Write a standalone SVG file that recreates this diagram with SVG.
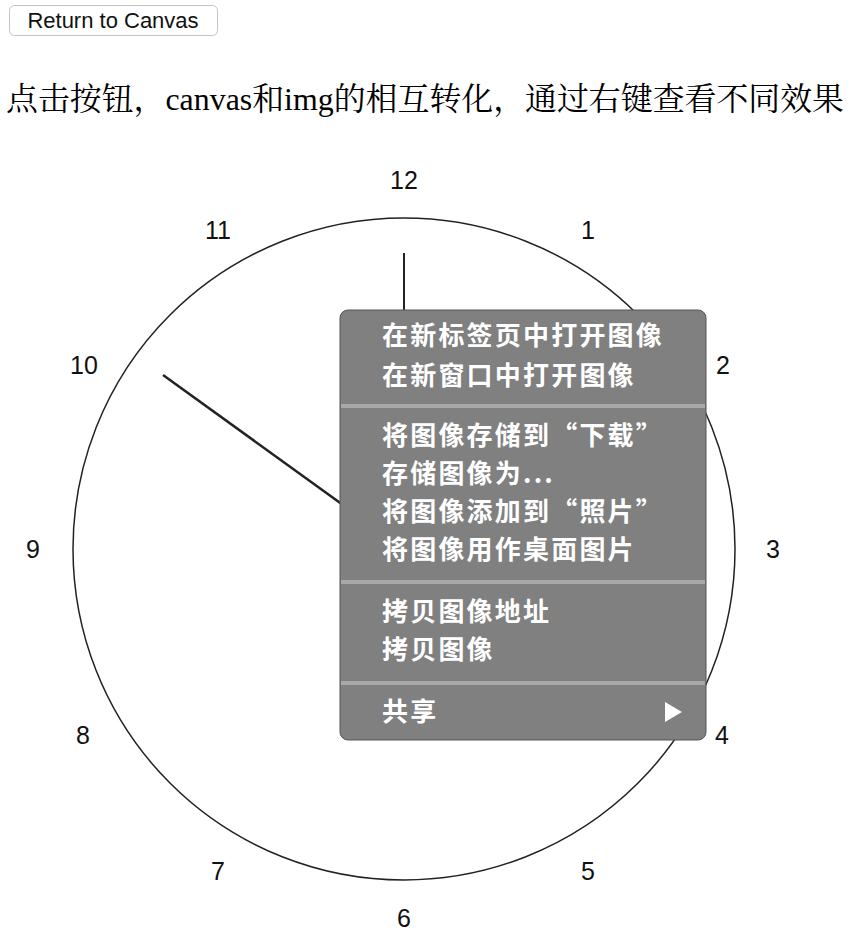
<svg xmlns="http://www.w3.org/2000/svg" width="860" height="936" viewBox="0 0 860 936">
<style>
.n{font-family:"Liberation Sans",Arial,sans-serif;font-size:25px;fill:#111;text-anchor:middle}
.m{font-family:"Noto Sans CJK SC","Liberation Sans",sans-serif;font-size:26px;letter-spacing:2.2px;fill:#fff;font-weight:600}
.sep{stroke:#a8a8a8;stroke-width:4}
</style>
<rect width="860" height="936" fill="#fff"/>
<g id="button">
<rect x="9.5" y="5.5" width="208" height="30" rx="5" fill="#fff" stroke="#c4c4c4"/>
<text x="113" y="28" font-family="'Liberation Sans',Arial,sans-serif" font-size="22" text-anchor="middle" fill="#111">Return to Canvas</text>
</g>
<text x="6" y="110" font-family="'Liberation Serif','Noto Serif CJK SC','Noto Sans CJK SC',serif" font-size="31.9" fill="#000">点击按钮，canvas和img的相互转化，通过右键查看不同效果</text>
<g id="clock">
<circle cx="404" cy="549" r="331" fill="none" stroke="#222" stroke-width="1.5"/>
<line x1="404" y1="549" x2="404" y2="253" stroke="#222" stroke-width="2"/>
<line x1="404" y1="549" x2="163" y2="375" stroke="#222" stroke-width="2.5"/>
<text class="n" x="404" y="189">12</text>
<text class="n" x="588" y="239">1</text>
<text class="n" x="723" y="374">2</text>
<text class="n" x="773" y="558">3</text>
<text class="n" x="722" y="744">4</text>
<text class="n" x="588" y="880">5</text>
<text class="n" x="404" y="927">6</text>
<text class="n" x="218" y="880">7</text>
<text class="n" x="83" y="744">8</text>
<text class="n" x="33" y="558">9</text>
<text class="n" x="84" y="374">10</text>
<text class="n" x="218" y="239">11</text>
</g>
<g id="menu">
<rect x="340" y="310" width="366" height="430" rx="8" fill="#808080" stroke="#555" stroke-width="1"/>
<line class="sep" x1="341" y1="406" x2="705" y2="406"/>
<line class="sep" x1="341" y1="582" x2="705" y2="582"/>
<line class="sep" x1="341" y1="683" x2="705" y2="683"/>
<text class="m" x="382" y="345">在新标签页中打开图像</text>
<text class="m" x="382" y="385">在新窗口中打开图像</text>
<text class="m" x="382" y="445">将图像存储到“下载”</text>
<text class="m" x="382" y="483">存储图像为...</text>
<text class="m" x="382" y="521">将图像添加到“照片”</text>
<text class="m" x="382" y="559">将图像用作桌面图片</text>
<text class="m" x="382" y="621">拷贝图像地址</text>
<text class="m" x="382" y="659">拷贝图像</text>
<text class="m" x="382" y="721">共享</text>
<polygon points="665,702 682,712 665,722" fill="#fff"/>
</g>
</svg>
